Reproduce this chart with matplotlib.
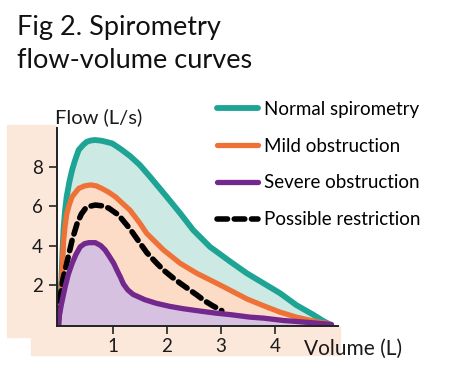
import matplotlib.pyplot as plt
from matplotlib.patches import Rectangle

plt.rcParams['font.family'] = ['Lato', 'DejaVu Sans']

# Volume (L) / flow (L/s)
normal_vol = [0, 0.015, 0.03, 0.05, 0.07, 0.09, 0.12, 0.15, 0.2, 0.25, 0.3, 0.37,
              0.45, 0.52, 0.6, 0.68, 0.8, 0.99, 1.15, 1.32, 1.5, 1.69, 2.0, 2.25,
              2.49, 2.8, 3.17, 3.48, 3.79, 4.1, 4.4, 4.72, 4.9, 5.0]
normal_flow = [0, 0.8, 1.5, 2.2, 3.6, 4.8, 5.8, 6.5, 7.25, 7.84, 8.3, 8.85,
               9.1, 9.27, 9.34, 9.36, 9.32, 9.19, 8.9, 8.55, 8.1, 7.5, 6.48, 5.64,
               4.79, 3.94, 3.2, 2.6, 2.09, 1.58, 0.98, 0.48, 0.17, 0.03]

mild_vol = [0, 0.01, 0.03, 0.05, 0.07, 0.09, 0.12, 0.15, 0.2, 0.25, 0.37, 0.48,
            0.59, 0.7, 0.8, 0.92, 1.05, 1.18, 1.32, 1.5, 1.63, 1.94, 2.25, 2.56,
            2.99, 3.48, 3.79, 4.1, 4.4, 4.72, 5.0]
mild_flow = [0, 0.4, 0.9, 1.9, 3.1, 4.2, 5.0, 5.6, 6.1, 6.48, 6.9, 7.03,
             7.08, 7.03, 6.9, 6.72, 6.48, 6.15, 5.8, 5.15, 4.62, 3.78, 3.1, 2.59,
             2.0, 1.3, 0.95, 0.62, 0.37, 0.17, 0.03]

severe_vol = [0, 0.01, 0.05, 0.12, 0.18, 0.25, 0.32, 0.4, 0.48, 0.56, 0.68, 0.78,
              0.86, 0.94, 1.02, 1.08, 1.14, 1.2, 1.28, 1.38, 1.6, 1.81, 2.05, 2.3,
              2.61, 2.92, 3.17, 3.54, 3.79, 4.16, 4.4, 4.75, 5.05]
severe_flow = [0, 0.4, 1.0, 1.9, 2.55, 3.1, 3.55, 3.94, 4.1, 4.15, 4.15, 4.0,
               3.78, 3.45, 3.1, 2.75, 2.42, 2.05, 1.75, 1.52, 1.25, 1.07, 0.92, 0.8,
               0.68, 0.57, 0.5, 0.37, 0.32, 0.2, 0.15, 0.07, 0.0]

restr_vol = [0, 0.03, 0.08, 0.15, 0.25, 0.34, 0.42, 0.5, 0.58, 0.68, 0.8, 0.93,
             1.11, 1.32, 1.5, 1.63, 1.8, 1.94, 2.1, 2.25, 2.4, 2.56, 2.7, 2.85, 3.02]
restr_flow = [0.3, 1.4, 2.3, 3.1, 4.28, 5.1, 5.6, 5.9, 6.0, 6.06, 6.02, 5.9,
              5.55, 4.85, 4.15, 3.65, 3.15, 2.76, 2.4, 2.09, 1.8, 1.49, 1.2, 0.95, 0.7]

labels = ['Normal spirometry', 'Mild obstruction', 'Severe obstruction',
          'Possible restriction']
x_ticks = [1, 2, 3, 4]
y_ticks = [2, 4, 6, 8]

teal, orange, purple = '#1ea494', '#ee7238', '#72288c'
peach = '#fce8db'

W, H = 474, 374
fig = plt.figure(figsize=(W / 100, H / 100), dpi=100)

# peach backdrop panels (behind the axes)
fig.patches.append(Rectangle((7 / W, 1 - 337 / H), 49 / W, 212 / H,
                             transform=fig.transFigure, color=peach, zorder=-5))
fig.patches.append(Rectangle((31 / W, 1 - 355 / H), 309 / W, 29 / H,
                             transform=fig.transFigure, color=peach, zorder=-5))

ax = fig.add_axes([57 / W, 1 - 326 / H, 281 / W, 198 / H])
ax.patch.set_alpha(0)

ax.fill_between(normal_vol, normal_flow, color='#cde9e3', lw=0)
ax.fill_between(mild_vol, mild_flow, color='#fcdcc7', lw=0)
ax.fill_between(severe_vol, severe_flow, color='#d6c1e0', lw=0)

ax.plot(normal_vol, normal_flow, color=teal, lw=4.2, solid_capstyle='round',
        solid_joinstyle='round', label=labels[0])
ax.plot(mild_vol, mild_flow, color=orange, lw=3.8, solid_capstyle='round',
        solid_joinstyle='round', label=labels[1])
ax.plot(restr_vol, restr_flow, color='black', lw=4.0, ls=(0, (1.9, 1.2)),
        dash_capstyle='round', label=labels[3])
ax.plot(severe_vol, severe_flow, color=purple, lw=3.8, solid_capstyle='round',
        solid_joinstyle='round', label=labels[2])

ax.set_xlim(-0.03, 5.17)
ax.set_ylim(-0.08, 9.97)
ax.set_xticks(x_ticks)
ax.set_yticks(y_ticks)
ax.tick_params(labelsize=13.5, length=6, width=1.2, color='#222222',
               labelcolor='#1a1a1a')
ax.tick_params(axis='x', pad=3)
ax.tick_params(axis='y', pad=4)
for s in ['top', 'right']:
    ax.spines[s].set_visible(False)
for s in ['left', 'bottom']:
    ax.spines[s].set_linewidth(1.4)
    ax.spines[s].set_color('#222222')

h, l = ax.get_legend_handles_labels()
order = [0, 1, 3, 2]
fig.legend([h[i] for i in order], [l[i] for i in order], loc='upper left',
           bbox_to_anchor=(217 / W, 1 - 101 / H), frameon=False, fontsize=13.5,
           borderpad=0, borderaxespad=0, handlelength=2.2, handletextpad=0.3,
           labelspacing=1.05)

fig.text(55 / W, 1 - 123 / H, 'Flow (L/s)', fontsize=14.5, va='baseline',
         color='#1a1a1a')
fig.text(304 / W, 1 - 355 / H, 'Volume (L)', fontsize=15, va='baseline',
         color='#1a1a1a')
fig.text(17 / W, 1 - 35 / H, 'Fig 2. Spirometry', fontsize=19.5, va='baseline',
         color='#111111')
fig.text(17 / W, 1 - 68 / H, 'flow-volume curves', fontsize=19.5, va='baseline',
         color='#111111')

fig.savefig('out.png', dpi=100)
